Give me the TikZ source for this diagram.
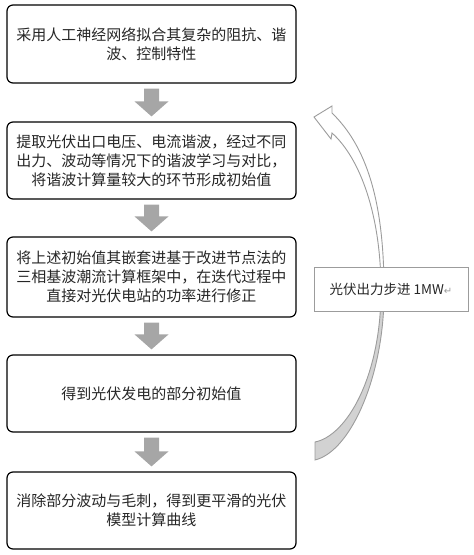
\documentclass[tikz,border=0pt]{standalone}
\usepackage{fontspec}
\newfontfamily\cjk{Noto Sans CJK SC}
\newfontfamily\dvs{DejaVu Sans}
\usetikzlibrary{calc}
\definecolor{arrowgray}{HTML}{A6A6A6}
\definecolor{bandline}{HTML}{9C9C9C}
\definecolor{bandfill}{HTML}{D2D2D2}
\definecolor{txt}{HTML}{262626}
\begin{document}
\begin{tikzpicture}[x=1pt,y=-1pt,
  stepbox/.style={draw=black, line width=1.2pt, rounded corners=6pt,
    minimum width=289pt, text width=280pt, align=center, inner sep=0pt,
    font=\cjk\fontsize{15}{19}\selectfont, text=txt},
  blockarrow/.style={fill=arrowgray, draw=none},
  band/.style={draw=bandline, line width=0.9pt, line join=miter},
  lblbox/.style={draw=bandline, line width=0.9pt, fill=white,
    minimum width=154pt, minimum height=44pt, inner sep=0pt,
    font=\cjk\fontsize{13.5}{15}\selectfont, text=txt}]
\useasboundingbox (0,0) rectangle (474,555);

\node[stepbox, minimum height=78pt] (b1) at (151.5,44)
  {采用人工神经网络拟合其复杂的阻抗、谐\\波、控制特性};
\node[stepbox, minimum height=77pt] (b2) at (151.5,160.5)
  {提取光伏出口电压、电流谐波，经过不同\\出力、波动等情况下的谐波学习与对比，\\将谐波计算量较大的环节形成初始值};
\node[stepbox, minimum height=80pt] (b3) at (151.5,277)
  {将上述初始值其嵌套进基于改进节点法的\\三相基波潮流计算框架中，在迭代过程中\\直接对光伏电站的功率进行修正};
\node[stepbox, minimum height=77pt] (b4) at (151.5,393.5)
  {得到光伏发电的部分初始值};
\node[stepbox, minimum height=77pt] (b5) at (151.5,510.5)
  {消除部分波动与毛刺，得到更平滑的光伏\\模型计算曲线};

\foreach \a/\b in {b1/b2,b2/b3,b3/b4,b4/b5}{
  \fill[blockarrow] ($(\a.south)+(-7.5,5)$) -- ($(\b.north)+(-7.5,-20)$)
    -- ++(-9.5,0) -- ($(\b.north)+(0,-5)$) -- ($(\b.north)+(17,-20)$)
    -- ++(-9.5,0) -- ($(\a.south)+(7.5,5)$) -- cycle;
}

% curved feedback arrow
\coordinate (tailtop) at (315,442);
\coordinate (tailbot) at (315,460);
\coordinate (midout) at (384,290);
\coordinate (midin) at (381,290);
\coordinate (headout) at (332,113);
\coordinate (headin) at (332,133);
\coordinate (barbup) at (332,106);
\coordinate (barblo) at (331,139);
\coordinate (tip) at (314,117);

\filldraw[band, fill=bandfill] (tailtop) -- (tailbot)
  .. controls (352,451) and (385,372) .. (midout)
  -- (midin)
  .. controls (381,378) and (346,436) .. (tailtop) -- cycle;
\filldraw[band, fill=white] (midout)
  .. controls (384,200) and (366,146) .. (headout)
  -- (barbup) -- (tip) -- (barblo) -- (headin)
  .. controls (360,158) and (381,215) .. (midin);

\node[lblbox] (lbl) at (391,289) {光伏出力步进 1MW{\dvs\fontsize{10}{10}\selectfont\color{bandline}↵}};
\end{tikzpicture}
\end{document}
